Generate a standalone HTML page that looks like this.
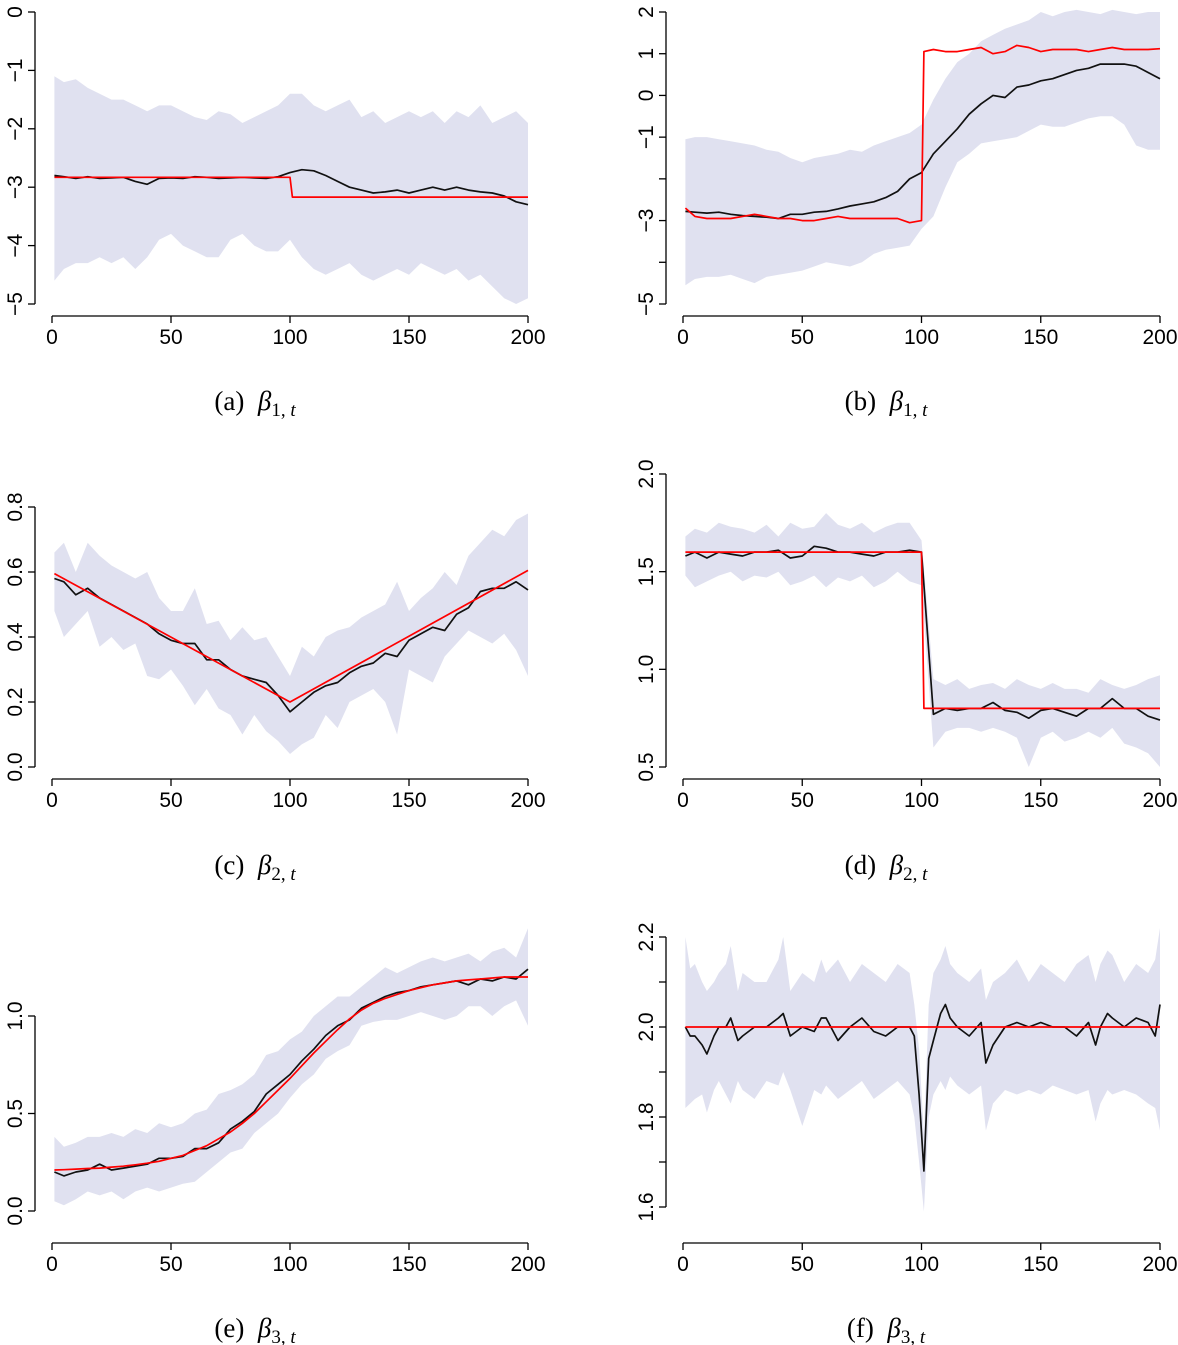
<!DOCTYPE html>
<html><head><meta charset="utf-8"><style>
html,body{margin:0;padding:0;background:#fff}
svg{display:block}
text{font-family:"Liberation Sans",Arial,sans-serif;font-size:21px;fill:#000}
.cap{font-family:"Liberation Serif","DejaVu Serif",serif;font-size:27px;white-space:pre}
</style></head><body>
<svg id="fig" width="1178" height="1345" viewBox="0 0 1178 1345"></svg>
<script>
const grid=[0,5,10,15,20,25,30,35,40,45,50,55,60,65,70,75,80,85,90,95,100,105,110,115,120,125,130,135,140,145,150,155,160,165,170,175,180,185,190,195,200];
const xTickVals=[0,50,100,150,200];

const aUpper=[-1.1,-1.2,-1.15,-1.3,-1.4,-1.5,-1.5,-1.6,-1.7,-1.6,-1.6,-1.7,-1.8,-1.85,-1.7,-1.75,-1.9,-1.8,-1.7,-1.6,-1.4,-1.4,-1.6,-1.7,-1.6,-1.5,-1.8,-1.7,-1.9,-1.8,-1.7,-1.8,-1.7,-1.9,-1.7,-1.8,-1.6,-1.9,-1.8,-1.7,-1.9];
const aLower=[-4.6,-4.4,-4.3,-4.3,-4.2,-4.3,-4.2,-4.4,-4.2,-3.9,-3.8,-4.0,-4.1,-4.2,-4.2,-3.9,-3.8,-4.0,-4.1,-4.1,-3.9,-4.2,-4.4,-4.5,-4.4,-4.3,-4.5,-4.6,-4.5,-4.4,-4.5,-4.3,-4.4,-4.5,-4.4,-4.6,-4.5,-4.7,-4.9,-5.0,-4.9];
const aMean=[-2.8,-2.82,-2.85,-2.82,-2.85,-2.84,-2.83,-2.9,-2.95,-2.85,-2.84,-2.85,-2.82,-2.83,-2.85,-2.84,-2.83,-2.84,-2.85,-2.82,-2.75,-2.7,-2.72,-2.8,-2.9,-3.0,-3.05,-3.1,-3.08,-3.05,-3.1,-3.05,-3.0,-3.05,-3.0,-3.05,-3.08,-3.1,-3.15,-3.25,-3.3];
const aTrueT=[1,100,101,200];
const aTrueV=[-2.83,-2.83,-3.17,-3.17];

const bUpper=[-1.05,-1.0,-1.0,-1.05,-1.1,-1.15,-1.2,-1.3,-1.35,-1.5,-1.6,-1.5,-1.45,-1.4,-1.3,-1.35,-1.2,-1.1,-1.0,-0.9,-0.7,-0.1,0.4,0.8,1.0,1.3,1.45,1.6,1.7,1.8,2.0,1.9,2.0,2.05,2.0,1.95,2.05,2.0,1.95,2.0,2.0];
const bLower=[-4.55,-4.4,-4.35,-4.35,-4.3,-4.4,-4.5,-4.35,-4.3,-4.25,-4.2,-4.1,-4.0,-4.05,-4.1,-4.0,-3.8,-3.7,-3.65,-3.6,-3.2,-2.9,-2.2,-1.6,-1.4,-1.15,-1.1,-1.05,-1.0,-0.85,-0.7,-0.75,-0.75,-0.65,-0.55,-0.5,-0.5,-0.7,-1.2,-1.3,-1.3];
const bMean=[-2.78,-2.8,-2.82,-2.8,-2.85,-2.88,-2.9,-2.92,-2.95,-2.85,-2.85,-2.8,-2.78,-2.72,-2.65,-2.6,-2.55,-2.45,-2.3,-2.0,-1.85,-1.4,-1.1,-0.8,-0.45,-0.2,0.0,-0.05,0.2,0.25,0.35,0.4,0.5,0.6,0.65,0.75,0.75,0.75,0.7,0.55,0.4];
const bTrueT=[1,5,10,15,20,25,30,35,40,45,50,55,60,65,70,75,80,85,90,95,100,101,105,110,115,120,125,130,135,140,145,150,155,160,165,170,175,180,185,190,195,200];
const bTrueV=[-2.7,-2.9,-2.95,-2.95,-2.95,-2.9,-2.85,-2.9,-2.95,-2.95,-3.0,-3.0,-2.95,-2.9,-2.95,-2.95,-2.95,-2.95,-2.95,-3.05,-3.0,1.05,1.1,1.05,1.05,1.1,1.15,1.0,1.05,1.2,1.15,1.05,1.1,1.1,1.1,1.05,1.1,1.15,1.1,1.1,1.1,1.12];

const cUpper=[0.66,0.69,0.6,0.69,0.65,0.62,0.6,0.58,0.6,0.52,0.48,0.48,0.55,0.44,0.45,0.39,0.43,0.39,0.4,0.34,0.28,0.37,0.34,0.4,0.42,0.43,0.46,0.48,0.5,0.57,0.48,0.52,0.55,0.6,0.56,0.65,0.69,0.73,0.71,0.76,0.78];
const cLower=[0.48,0.4,0.44,0.48,0.37,0.4,0.36,0.38,0.28,0.27,0.3,0.25,0.19,0.24,0.18,0.16,0.1,0.16,0.11,0.08,0.04,0.07,0.09,0.16,0.12,0.2,0.22,0.24,0.2,0.1,0.3,0.28,0.26,0.34,0.38,0.42,0.4,0.38,0.41,0.36,0.28];
const cMean=[0.58,0.57,0.53,0.55,0.52,0.5,0.48,0.46,0.44,0.41,0.39,0.38,0.38,0.33,0.33,0.3,0.28,0.27,0.26,0.22,0.17,0.2,0.23,0.25,0.26,0.29,0.31,0.32,0.35,0.34,0.39,0.41,0.43,0.42,0.47,0.49,0.54,0.55,0.55,0.57,0.545];
const cTrueT=[1,100,200];
const cTrueV=[0.595,0.2,0.605];

const dUpper=[1.68,1.72,1.7,1.75,1.73,1.72,1.7,1.74,1.68,1.75,1.72,1.73,1.8,1.74,1.72,1.75,1.7,1.73,1.75,1.75,1.66,0.95,0.92,0.95,0.9,0.92,0.93,0.9,0.95,0.92,0.9,0.93,0.9,0.9,0.88,0.95,0.92,0.9,0.92,0.95,0.97];
const dLower=[1.48,1.42,1.45,1.48,1.5,1.45,1.48,1.47,1.5,1.43,1.45,1.48,1.42,1.47,1.45,1.48,1.42,1.45,1.5,1.45,1.43,0.6,0.68,0.7,0.7,0.68,0.7,0.68,0.65,0.5,0.65,0.68,0.63,0.65,0.68,0.65,0.7,0.62,0.6,0.57,0.5];
const dMean=[1.58,1.6,1.57,1.6,1.59,1.58,1.6,1.6,1.61,1.57,1.58,1.63,1.62,1.6,1.6,1.59,1.58,1.6,1.6,1.61,1.6,0.77,0.8,0.79,0.8,0.8,0.83,0.79,0.78,0.75,0.79,0.8,0.78,0.76,0.8,0.8,0.85,0.8,0.8,0.76,0.74];
const dTrueT=[1,100,101,200];
const dTrueV=[1.6,1.6,0.8,0.8];

const eUpper=[0.38,0.33,0.35,0.38,0.38,0.4,0.38,0.42,0.4,0.45,0.43,0.45,0.5,0.52,0.6,0.62,0.65,0.7,0.8,0.82,0.88,0.92,1.0,1.05,1.1,1.1,1.15,1.2,1.25,1.22,1.25,1.28,1.3,1.28,1.3,1.32,1.28,1.33,1.35,1.3,1.45];
const eLower=[0.05,0.03,0.06,0.1,0.08,0.1,0.06,0.1,0.12,0.1,0.12,0.14,0.15,0.2,0.25,0.3,0.32,0.4,0.45,0.5,0.58,0.65,0.7,0.78,0.82,0.85,0.95,0.97,0.98,0.98,1.0,1.02,1.0,0.98,1.0,1.05,1.05,1.0,1.05,1.08,0.95];
const eMean=[0.2,0.18,0.2,0.21,0.24,0.21,0.22,0.23,0.24,0.27,0.27,0.28,0.32,0.32,0.35,0.42,0.46,0.51,0.6,0.65,0.7,0.77,0.83,0.9,0.95,0.98,1.04,1.07,1.1,1.12,1.13,1.15,1.16,1.17,1.18,1.16,1.19,1.18,1.2,1.19,1.24];
const eTrueV=[0.21,0.212,0.215,0.218,0.22,0.225,0.23,0.237,0.245,0.255,0.27,0.285,0.31,0.335,0.37,0.405,0.45,0.5,0.56,0.62,0.68,0.745,0.81,0.87,0.93,0.985,1.03,1.065,1.09,1.11,1.13,1.145,1.16,1.17,1.18,1.185,1.19,1.195,1.2,1.2,1.2];

const fT=[1,3,5,8,10,13,15,18,20,23,25,30,35,40,42,45,50,55,58,60,65,70,75,80,85,90,95,97,99,101,103,105,108,110,112,115,120,125,127,130,135,140,145,150,155,160,165,170,173,175,178,180,185,190,195,198,200];
const fMean=[2.0,1.98,1.98,1.96,1.94,1.98,2.0,2.0,2.02,1.97,1.98,2.0,2.0,2.02,2.03,1.98,2.0,1.99,2.02,2.02,1.97,2.0,2.02,1.99,1.98,2.0,2.0,1.98,1.85,1.68,1.93,1.97,2.03,2.05,2.02,2.0,1.98,2.01,1.92,1.96,2.0,2.01,2.0,2.01,2.0,2.0,1.98,2.01,1.96,2.0,2.03,2.02,2.0,2.02,2.01,1.98,2.05];
const fUpper=[2.2,2.13,2.14,2.1,2.08,2.1,2.12,2.14,2.18,2.08,2.12,2.1,2.1,2.15,2.2,2.08,2.12,2.1,2.15,2.12,2.15,2.1,2.14,2.12,2.1,2.14,2.12,2.05,1.95,1.76,2.05,2.12,2.15,2.18,2.14,2.12,2.1,2.13,2.06,2.1,2.12,2.15,2.1,2.14,2.12,2.1,2.14,2.16,2.1,2.14,2.17,2.16,2.1,2.14,2.12,2.15,2.22];
const fLower=[1.82,1.83,1.84,1.85,1.81,1.86,1.88,1.85,1.83,1.88,1.86,1.84,1.88,1.87,1.9,1.86,1.78,1.86,1.85,1.87,1.84,1.86,1.88,1.84,1.86,1.88,1.85,1.8,1.7,1.59,1.8,1.85,1.88,1.86,1.89,1.87,1.85,1.87,1.77,1.83,1.86,1.85,1.86,1.85,1.87,1.86,1.85,1.86,1.79,1.83,1.86,1.85,1.86,1.85,1.83,1.82,1.77];
const fTrueT=[1,200];
const fTrueV=[2.0,2.0];

const aTicks=[0,-1,-2,-3,-4,-5], aLabels=["0","−1","−2","−3","−4","−5"];
const bTicks=[2,1,0,-1,-2,-3,-4,-5], bLabels=["2","1","0","−1","","−3","","−5"];
const cTicks=[0,0.2,0.4,0.6,0.8], cLabels=["0.0","0.2","0.4","0.6","0.8"];
const dTicks=[0.5,1.0,1.5,2.0], dLabels=["0.5","1.0","1.5","2.0"];
const eTicks=[0,0.5,1.0], eLabels=["0.0","0.5","1.0"];
const fTicks=[1.6,1.7,1.8,1.9,2.0,2.1,2.2], fLabels=["1.6","","1.8","","2.0","","2.2"];

const NS="http://www.w3.org/2000/svg";
const svg=document.getElementById('fig');
function mk(tag,attrs,parent){const e=document.createElementNS(NS,tag);for(const k in attrs)e.setAttribute(k,attrs[k]);(parent||svg).appendChild(e);return e;}

function panel(id,L,data){
  const g=mk('g',{});
  
  
  const sx=t=>L.xL+(t/200)*(L.xR-L.xL);
  const sy=v=>L.py0+(v-L.v0)/(L.v1-L.v0)*(L.py1-L.py0);
  const n=Math.min(data.bT.length,data.up.length,data.lo.length);
  let d='';
  for(let i=0;i<n;i++)d+=(i?'L':'M')+sx(Math.max(1,data.bT[i])).toFixed(1)+','+sy(data.up[i]).toFixed(1);
  for(let i=n-1;i>=0;i--)d+='L'+sx(Math.max(1,data.bT[i])).toFixed(1)+','+sy(data.lo[i]).toFixed(1);
  const band=mk('path',{d:d+'Z',fill:'#e0e1f0',stroke:'none'},g);
  
  
  function line(T,V,col,w,nm){
    const m=Math.min(T.length,V.length);let p='';
    for(let i=0;i<m;i++)p+=(i?'L':'M')+sx(Math.max(1,T[i])).toFixed(1)+','+sy(V[i]).toFixed(1);
    const e=mk('path',{d:p,fill:'none',stroke:col,'stroke-width':w,'stroke-linejoin':'round'},g);
    
    
  }
  line(data.mT,data.mean,'#111',1.7,'posterior-mean-line-'+id);
  line(data.tT,data.tV,'#ff0000',1.7,'true-value-line-'+id);
  const ya=mk('g',{},g);
  
  
  const yt=L.ticks;
  mk('line',{x1:L.ax,x2:L.ax,y1:sy(yt[0]),y2:sy(yt[yt.length-1]),stroke:'#000','stroke-width':1.3},ya);
  yt.forEach((v,i)=>{
    const y=sy(v);
    mk('line',{x1:L.ax-7,x2:L.ax,y1:y,y2:y,stroke:'#000','stroke-width':1.3},ya);
    if(L.labels[i]){
      const tx=mk('text',{x:L.ax-13,y:y,'text-anchor':'middle',transform:'rotate(-90 '+(L.ax-13)+' '+y+')'},ya);
      tx.textContent=L.labels[i];
      
      
    }
  });
  const xa=mk('g',{},g);
  
  
  mk('line',{x1:sx(0),x2:sx(200),y1:L.xy,y2:L.xy,stroke:'#000','stroke-width':1.3},xa);
  xTickVals.forEach(t=>{
    mk('line',{x1:sx(t),x2:sx(t),y1:L.xy,y2:L.xy+7,stroke:'#000','stroke-width':1.3},xa);
    const tx=mk('text',{x:sx(t),y:L.xy+28,'text-anchor':'middle'},xa);
    tx.textContent=String(t);
    
    
  });
  const cap=mk('text',{x:L.capX,y:L.capY,'text-anchor':'middle','class':'cap'},g);
  cap.innerHTML='('+id+')  <tspan font-style="italic">β</tspan><tspan font-size="19" dy="6">'+L.sub+'</tspan>';
  
  
}

panel('a',{xL:52,xR:528,ax:35,v0:0,py0:12,v1:-5,py1:304,xy:316,ticks:aTicks,labels:aLabels,capX:255,capY:410,sub:'1, <tspan font-style="italic">t</tspan>'},
  {bT:grid,up:aUpper,lo:aLower,mT:grid,mean:aMean,tT:aTrueT,tV:aTrueV});
panel('b',{xL:683,xR:1160,ax:666,v0:2,py0:12,v1:-5,py1:304,xy:316,ticks:bTicks,labels:bLabels,capX:886,capY:410,sub:'1, <tspan font-style="italic">t</tspan>'},
  {bT:grid,up:bUpper,lo:bLower,mT:grid,mean:bMean,tT:bTrueT,tV:bTrueV});
panel('c',{xL:52,xR:528,ax:35,v0:0.8,py0:507,v1:0,py1:767,xy:779,ticks:cTicks,labels:cLabels,capX:255,capY:874,sub:'2, <tspan font-style="italic">t</tspan>'},
  {bT:grid,up:cUpper,lo:cLower,mT:grid,mean:cMean,tT:cTrueT,tV:cTrueV});
panel('d',{xL:683,xR:1160,ax:666,v0:2.0,py0:474,v1:0.5,py1:767,xy:779,ticks:dTicks,labels:dLabels,capX:886,capY:874,sub:'2, <tspan font-style="italic">t</tspan>'},
  {bT:grid,up:dUpper,lo:dLower,mT:grid,mean:dMean,tT:dTrueT,tV:dTrueV});
panel('e',{xL:52,xR:528,ax:35,v0:1.0,py0:1016,v1:0,py1:1211,xy:1243,ticks:eTicks,labels:eLabels,capX:255,capY:1337,sub:'3, <tspan font-style="italic">t</tspan>'},
  {bT:grid,up:eUpper,lo:eLower,mT:grid,mean:eMean,tT:grid,tV:eTrueV});
panel('f',{xL:683,xR:1160,ax:666,v0:2.2,py0:937,v1:1.6,py1:1207,xy:1243,ticks:fTicks,labels:fLabels,capX:886,capY:1337,sub:'3, <tspan font-style="italic">t</tspan>'},
  {bT:fT,up:fUpper,lo:fLower,mT:fT,mean:fMean,tT:fTrueT,tV:fTrueV});
</script>
</body></html>
